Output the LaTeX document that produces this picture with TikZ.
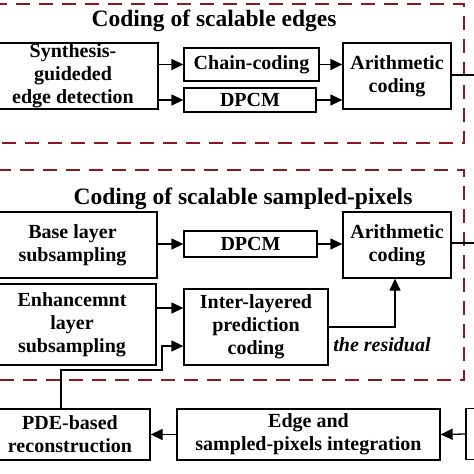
\documentclass[tikz,border=0pt]{standalone}
\usepackage{fontspec}
\setmainfont{Liberation Serif}
\usetikzlibrary{arrows.meta}
\usetikzlibrary{positioning}
\definecolor{framered}{rgb}{0.55,0.09,0.11}

\tikzset{
  block/.style={draw=black, line width=1.3pt, align=center, inner sep=0pt, font=\fontsize{20}{23}\selectfont\bfseries},
  frame/.style={draw=framered, line width=2pt, dash pattern=on 14pt off 9pt},
  link/.style={line width=1.3pt},
  arr/.style={link, -{Triangle[length=12pt,width=11pt]}},
  heading/.style={font=\fontsize{23.5}{27}\selectfont\bfseries}
}

\begin{document}
\begin{tikzpicture}[x=1pt, y=-1pt]
\useasboundingbox (0,0) rectangle (474,474);

% Coding of scalable edges
\draw[frame] (-20,4) rectangle (464,143);
\node[heading] (title1) at (214,21) {Coding of scalable edges};

\node[block, minimum width=170pt, minimum height=66pt] (synth) at (73,76) {Synthesis-\\guideded\\edge detection};
\node[block, minimum width=135pt, minimum height=33pt] (chain) at (251.5,64.5) {Chain-coding};
\node[block, minimum width=132pt, minimum height=24pt] (dpcm1) at (250,100) {DPCM};
\node[block, minimum width=108pt, minimum height=66pt] (arith1) at (397,76) {Arithmetic\\coding};

\draw[arr] (synth.east |- chain.west) -- (chain.west);
\draw[arr] (synth.east |- dpcm1.west) -- (dpcm1.west);
\draw[arr] (chain.east) -- (arith1.west |- chain.east);
\draw[arr] (dpcm1.east) -- (arith1.west |- dpcm1.east);
\coordinate (out1) at (480,75);
\draw[link] (arith1.east |- out1) -- (out1);

% Coding of scalable sampled-pixels
\draw[frame] (-20,170) rectangle (464,380);
\node[heading] (title2) at (243,199) {Coding of scalable sampled-pixels};

\node[block, minimum width=169pt, minimum height=66pt] (base) at (72.5,245) {Base layer\\subsampling};
\node[block, minimum width=133pt, minimum height=26pt] (dpcm2) at (250.5,244) {DPCM};
\node[block, minimum width=108pt, minimum height=66pt] (arith2) at (397,245) {Arithmetic\\coding};
\node[block, minimum width=168pt, minimum height=81pt] (enh) at (72,324.5) {Enhancemnt\\layer\\subsampling};
\node[block, minimum width=144pt, minimum height=76pt] (inter) at (256,327) {Inter-layered\\prediction\\coding};
\node[font=\fontsize{20}{23}\selectfont\bfseries\itshape] (resid) at (382,345) {the residual};

\draw[arr] (base.east |- dpcm2.west) -- (dpcm2.west);
\draw[arr] (dpcm2.east) -- (arith2.west |- dpcm2.east);
\draw[arr] (enh.east |- 0,308) -- (inter.west |- 0,308);
\draw[arr] (inter.east) -| ([xshift=-2pt]arith2.south);
\coordinate (out2) at (480,243);
\draw[link] (arith2.east |- out2) -- (out2);

% Reconstruction
\node[block, minimum width=160pt, minimum height=51pt] (pde) at (70,434.5) {PDE-based\\reconstruction};
\node[block, minimum width=263pt, minimum height=51pt] (integ) at (308.5,434.5) {Edge and\\sampled-pixels integration};
\node[block, minimum width=40pt, minimum height=51pt] (next) at (486,434) {};

\draw[arr] (next.west) -- (integ.east);
\draw[arr] (integ.west) -- (pde.east);
\draw[arr] ([xshift=-9pt]pde.north) |- (162,370) |- ([yshift=-19pt]inter.west);

\end{tikzpicture}
\end{document}
